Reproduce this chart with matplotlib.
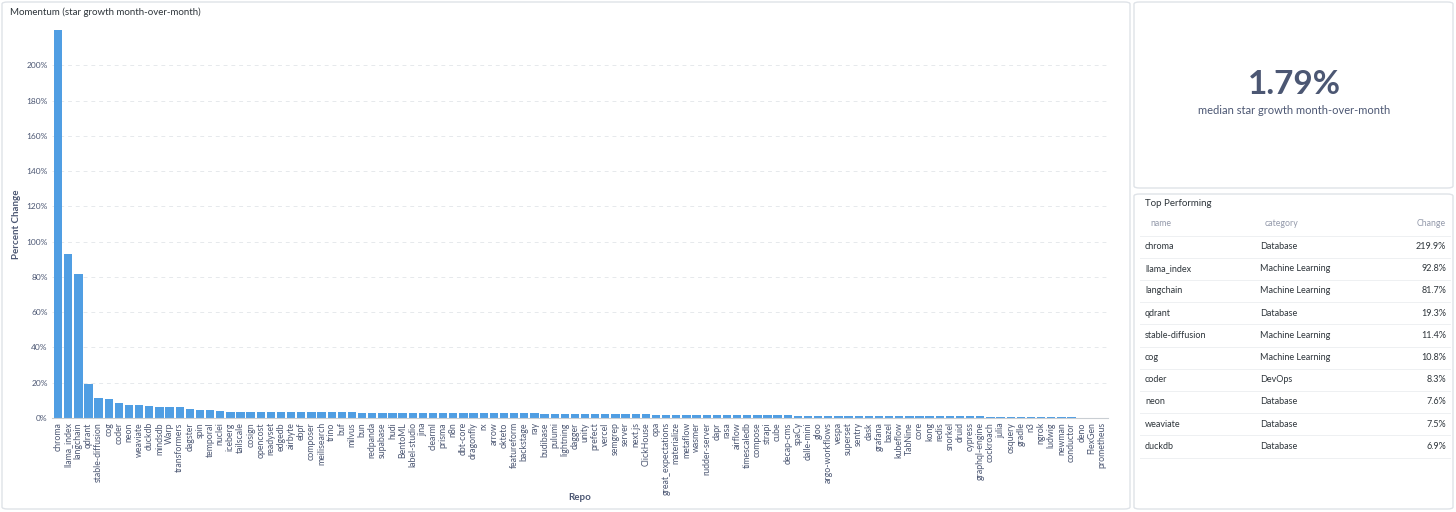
import matplotlib
matplotlib.use("Agg")
import matplotlib.pyplot as plt
from matplotlib.patches import FancyBboxPatch

plt.rcParams['font.family'] = ['Lato', 'DejaVu Sans']

repos = ["chroma","llama_index","langchain","qdrant","stable-diffusion","cog","coder","neon","weaviate","duckdb",
"mindsdb","Warp","transformers","dagster","spin","temporal","nuclei","iceberg","tailscale","cosign","opencost",
"readyset","edgedb","airbyte","ebpf","composer","meilisearch","trino","buf","milvus","bun","redpanda","supabase",
"hudi","BentoML","label-studio","jina","clearml","prisma","n8n","dbt-core","dragonfly","rx","arrow","okteto",
"featureform","backstage","ray","budibase","pulumi","lightning","dagger","unity","prefect","vercel","semgrep",
"server","next.js","ClickHouse","opa","great_expectations","materialize","metaflow","wasmer","rudder-server","dapr",
"rasa","airflow","timescaledb","compose","strapi","cube","decap-cms","spaCy","dalle-mini","gloo","argo-workflows",
"vespa","superset","sentry","dask","grafana","bazel","kubeflow","TabNine","core","kong","redis","snorkel","druid",
"cypress","graphql-engine","cockroach","julia","osquery","gradle","n3","ngrok","ludwig","newman","conductor",
"deno","FlexGen","prometheus"]
growth = [219.9,92.8,81.7,19.3,11.4,10.8,8.3,7.6,7.5,6.9,
6.4,6.3,6.2,5.0,4.4,4.3,4.0,3.6,3.6,3.6,3.6,
3.6,3.5,3.5,3.4,3.4,3.4,3.4,3.4,3.2,3.1,3.1,3.1,
3.1,2.9,2.9,2.9,2.9,2.8,2.8,2.8,2.8,2.6,2.6,2.6,
2.6,2.6,2.6,2.4,2.4,2.4,2.3,2.3,2.3,2.3,2.2,
2.0,2.0,2.0,1.9,1.9,1.9,1.9,1.9,1.8,1.8,
1.6,1.6,1.5,1.5,1.5,1.5,1.5,1.4,1.4,1.4,1.4,
1.4,1.3,1.2,1.2,1.2,1.2,1.1,1.1,1.1,1.1,1.1,1.0,1.0,
1.0,1.0,0.8,0.8,0.8,0.7,0.7,0.7,0.6,0.6,0.5,
0.2,0.1,0.05]

top_names = ["chroma","llama_index","langchain","qdrant","stable-diffusion","cog","coder","neon","weaviate","duckdb"]
top_cats = ["Database","Machine Learning","Machine Learning","Database","Machine Learning","Machine Learning",
            "DevOps","Database","Database","Database"]
top_change = ["219.9%","92.8%","81.7%","19.3%","11.4%","10.8%","8.3%","7.6%","7.5%","6.9%"]
median_value = "1.79%"

W, H = 1456, 512
fig = plt.figure(figsize=(W/100, H/100), dpi=100)

def card(x0, y0, x1, y1):
    fig.patches.append(FancyBboxPatch((x0/W, 1-y1/H), (x1-x0)/W, (y1-y0)/H,
        boxstyle="round,pad=0,rounding_size=0.004", transform=fig.transFigure,
        fc="white", ec="#dfe3e8", lw=1, zorder=-10))

card(2, 2, 1130, 509)
card(1134, 2, 1453, 188)
card(1134, 194, 1453, 509)

txt = "#4c5773"
fig.text(10/W, 1-12/H, "Momentum (star growth month-over-month)", fontsize=7, color="#2e353b", va="center")

ax = fig.add_axes([52/W, 1-418/H, (1108-52)/W, (418-30)/H])
ax.patch.set_alpha(0)
x = range(len(repos))
ax.bar(x, growth, width=0.82, color="#509ee3")
ax.set_xlim(-0.6, len(repos)-0.4)
ax.set_ylim(0, 220)
ax.set_yticks(range(0, 201, 20))
ax.set_yticklabels([f"{v}%" for v in range(0, 201, 20)], fontsize=6, color=txt)
ax.set_xticks(list(x))
ax.set_xticklabels(repos, rotation=90, fontsize=6.3, color=txt)
ax.tick_params(length=0, pad=3)
ax.grid(axis="y", color="#e6e9ec", ls=(0, (4, 4)), lw=0.7)
ax.set_axisbelow(True)
for s in ["top", "right", "left"]:
    ax.spines[s].set_visible(False)
ax.spines["bottom"].set_color("#c9ced3")
ax.set_ylabel("Percent Change", fontsize=7, color=txt, fontweight="bold")
fig.text(580/W, 1-497/H, "Repo", fontsize=7, color=txt, fontweight="bold", ha="center", va="center")

fig.text(1294/W, 1-85/H, median_value, fontsize=24, color="#4c5773", fontweight="bold", ha="center", va="center")
fig.text(1294/W, 1-111/H, "median star growth month-over-month", fontsize=8, color="#4c5773", ha="center", va="center")

fig.text(1145/W, 1-203/H, "Top Performing", fontsize=7, color="#2e353b", va="center")
hy = 224
fig.text(1150/W, 1-hy/H, "name", fontsize=6.3, color="#949aab", va="center")
fig.text(1265/W, 1-hy/H, "category", fontsize=6.3, color="#949aab", va="center")
fig.text(1446/W, 1-hy/H, "Change", fontsize=6.3, color="#949aab", va="center", ha="right")
for i, (n, c, v) in enumerate(zip(top_names, top_cats, top_change)):
    y = 246.5 + i*22.2
    fig.text(1145/W, 1-y/H, n, fontsize=6.5, color="#2e353b", va="center")
    fig.text(1260/W, 1-y/H, c, fontsize=6.5, color="#2e353b", va="center")
    fig.text(1446/W, 1-y/H, v, fontsize=6.5, color="#2e353b", va="center", ha="right")
for i in range(11):
    y = 235.5 + i*22.2
    fig.add_artist(plt.Line2D([1140/W, 1450/W], [1-y/H, 1-y/H], color="#eef0f2", lw=0.7,
                              transform=fig.transFigure))

fig.savefig("out.png", dpi=100)
